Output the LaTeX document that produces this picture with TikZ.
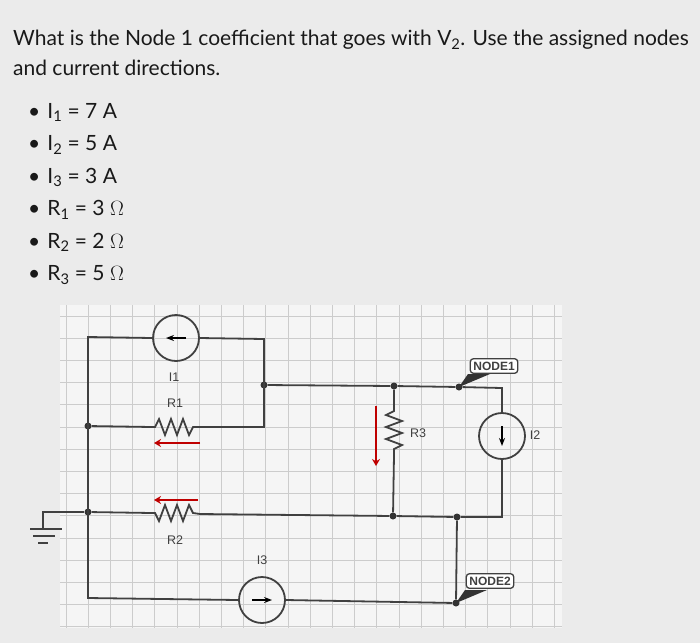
\documentclass[tikz,border=0pt]{standalone}
\usepackage{fontspec}
\usetikzlibrary{arrows.meta}
\setmainfont{Lato}
\newfontfamily\cfont{Liberation Sans}
\begin{document}
\begin{tikzpicture}[x=1pt,y=-1pt,
  wire/.style={line width=1.8pt,draw=black!75},
  src/.style={circle,draw=black!75,line width=1.8pt,minimum size=46pt,inner sep=0pt},
  dot/.style={circle,fill=black!80,inner sep=0pt,minimum size=7pt},
  lbl/.style={font=\cfont\fontsize{12.5}{14}\selectfont,text=black!75},
  nbox/.style={draw=black!75,line width=1.3pt,rounded corners=3pt,fill=white,font=\cfont\bfseries\fontsize{12}{14}\selectfont,text=black!75,inner sep=3pt},
  ra/.style={draw=red!75!black,line width=2.5pt,-{Stealth[length=7pt,width=8pt]}},
  txt/.style={anchor=west,font=\fontsize{21}{24}\selectfont,text=black!90,inner sep=0pt}]
\fill[black!8] (0,0) rectangle (700,643);
\useasboundingbox (0,0) rectangle (700,643);
% grid
\fill[black!4] (60,305) rectangle (562,628);
\foreach \i in {0,...,22} \draw[black!20,line width=1pt] (66+\i*22.2,305) -- (66+\i*22.2,628);
\foreach \j in {0,...,14} \draw[black!20,line width=1pt] (60,316+\j*22.2) -- (562,316+\j*22.2);
% text
\node[txt] (q1) at (13,40) {What is the Node 1 coefficient that goes with V\textsubscript{2}. Use the assigned nodes};
\node[txt] (q2) at (13,68) {and current directions.};
\foreach \t [count=\k] in {{I\textsubscript{1} = 7 A},{I\textsubscript{2} = 5 A},{I\textsubscript{3} = 3 A},{R\textsubscript{1} = 3 $\Omega$},{R\textsubscript{2} = 2 $\Omega$},{R\textsubscript{3} = 5 $\Omega$}}
  \node[txt] (b\k) at (28,{80+\k*32.5}) {\textbullet\hspace{7pt}\t};
% coordinates
\coordinate (tl) at (88,337); \coordinate (tr) at (264,339);
\coordinate (r1r) at (264,427);
\node[dot] (jb) at (88,426) {};
\node[dot] (jc) at (88,512) {};
\coordinate (bl) at (88,598);
\node[dot] (jr3t) at (394,386) {};
\node[dot] (n1) at (459,387) {};
\coordinate (i2t) at (502,388);
\coordinate (i2b) at (502,517);
\node[dot] (jr3b) at (393,516) {};
\node[dot] (jn2) at (457,517) {};
\node[dot] (n2) at (456,603) {};
\node[dot] (jad) at (264,385) {};
% sources
\node[src] (I1) at (176,338) {};
\draw[line width=1.4pt,-{Stealth[length=8pt]}] (I1.center)++(10,0) -- ++(-20,0);
\node[src] (I3) at (262,600) {};
\draw[line width=1.4pt,-{Stealth[length=8pt]}] (I3.center)++(-10,0) -- ++(20,0);
\node[src] (I2) at (502,436) {};
\draw[line width=1.4pt,-{Stealth[length=8pt]}] (I2.center)++(0,-10) -- ++(0,20);
% wires
\draw[wire] (I1.west) -- (tl) -- (bl) -- (I3.west);
\draw[wire] (I1.east) -- (tr) -- (r1r) -- (200,427);
\draw[wire] (jb) -- (152,427);
\draw[wire] (152,427) -- ++(3,0) -- ++(4,-8) -- ++(6,16) -- ++(6,-16) -- ++(6,16) -- ++(6,-16) -- ++(6,16) -- ++(4,-8) -- (200,427);
\draw[wire] (jc) -- (152,513);
\draw[wire] (152,513) -- ++(3,0) -- ++(4,8) -- ++(6,-16) -- ++(6,16) -- ++(6,-16) -- ++(6,16) -- ++(6,-16) -- ++(4,8) -- (200,514) -- (jr3b) -- (jn2) -- (i2b) -- (I2.south);
\draw[wire] (jad) -- (jr3t) -- (n1) -- (i2t) -- (I2.north);
\draw[wire] (jr3t) -- (394,408) -- ++(0,3) -- ++(-8,4) -- ++(16,6) -- ++(-16,6) -- ++(16,6) -- ++(-16,6) -- ++(16,6) -- ++(-8,4) -- (394,455) -- (jr3b);
\draw[wire] (I3.east) -- (n2) -- (jn2);
% ground
\draw[wire] (jc) -- (43,512) -- (43,529);
\draw[wire] (30,529) -- (62,529);
\draw[wire] (33,536) -- (55,536);
\draw[wire] (38,543) -- (48,543);
% red arrows
\draw[ra] (200,443) -- (154,443);
\draw[ra] (198,500) -- (154,500);
\draw[ra] (376,406) -- (376,466);
% labels
\node[lbl] (l1) at (174,377) {I1};
\node[lbl] (lr1) at (175,403) {R1};
\node[lbl] (lr2) at (175,540) {R2};
\node[lbl] (l3) at (262,560) {I3};
\node[lbl] (lr3) at (418,433) {R3};
\node[lbl] (l2) at (535,435) {I2};
% node callouts
\fill[black!80] (n1.center) -- (468,374) -- (490,374) -- cycle;
\node[nbox] (N1) at (494,366) {NODE1};
\fill[black!80] (n2.center) -- (465,590) -- (487,590) -- cycle;
\node[nbox] (N2) at (490,581) {NODE2};
\end{tikzpicture}
\end{document}
